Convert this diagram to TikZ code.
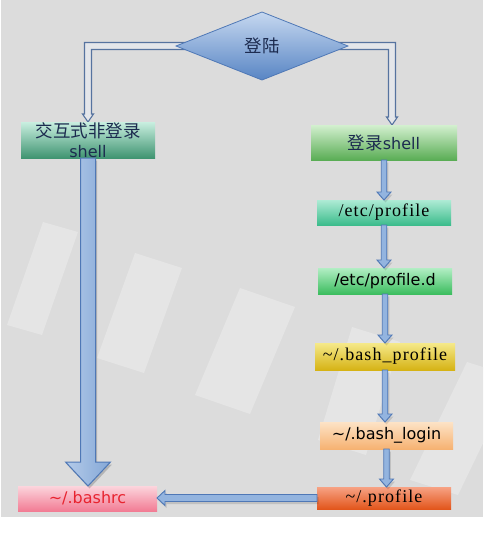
\documentclass[tikz,border=0pt]{standalone}
\usepackage{fontspec}
\newfontfamily\cjk{Noto Sans CJK SC}
\newfontfamily\sansf{DejaVu Sans}
\newfontfamily\serf[LetterSpace=6]{Liberation Serif}
\usetikzlibrary{shapes.geometric,calc}
\newcommand\cjkF{\cjk\fontsize{17.5}{21}\selectfont}
\newcommand\sanF{\sansf\fontsize{16}{21}\selectfont}
\newcommand\serF{\serf\fontsize{18}{21}\selectfont}
\definecolor{bg}{HTML}{DCDCDC}
\definecolor{bglite}{HTML}{E5E5E5}
\definecolor{navy}{HTML}{1C2B4F}
\definecolor{arrdraw}{HTML}{4F78B6}
\definecolor{arrfill}{HTML}{93B4DF}
\definecolor{hdraw}{HTML}{56739F}
\definecolor{hfill}{HTML}{E4E6EA}
\definecolor{redtxt}{HTML}{E8232F}
\pgfdeclarelayer{back}
\pgfsetlayers{back,main}
\newcommand\smallarr[2]{\path[sarrow] let \p1=(#1.south), \p2=(#2.north) in
  (\x1-2.75pt,\y1) -- (\x1+2.75pt,\y1) -- (\x1+2.75pt,\y2+8pt) -- (\x1+7pt,\y2+8pt)
  -- (\x1,\y2) -- (\x1-7pt,\y2+8pt) -- (\x1-2.75pt,\y2+8pt) -- cycle;}
\begin{document}
\begin{tikzpicture}[x=1pt,y=-1pt,
  cbox/.style={rectangle, inner sep=0pt, outer sep=0pt, text=black},
  shad/.style={preaction={fill=black, fill opacity=#1, transform canvas={shift={(1.5pt,-2.5pt)}}}},
  sarrow/.style={fill=arrfill, draw=arrdraw, line width=0.9pt, line join=miter, shad=0.12},
  bigarrow/.style={left color=arrfill!70!white, right color=arrfill!80!arrdraw, draw=arrdraw, line width=1pt, shad=0.18},
  harrow/.style={fill=hfill, draw=hdraw, line width=1.1pt, line join=miter}]
\useasboundingbox (0,0) rectangle (483,560);
\begin{pgfonlayer}{back}
\fill[white] (0,0) rectangle (483,560);
\fill[bg] (1,0) rectangle (483,517);
\begin{scope}
\clip (1,0) rectangle (483,517);
\fill[bglite] (43,222) -- (78,232) -- (42,335) -- (7,325) -- cycle;
\fill[bglite] (135,253) -- (182,268) -- (144,373) -- (97,358) -- cycle;
\fill[bglite] (240,288) -- (295,307) -- (250,414) -- (195,395) -- cycle;
\fill[bglite] (352,327) -- (400,342) -- (366,455) -- (318,440) -- cycle;
\fill[bglite] (467,362) -- (515,377) -- (458,495) -- (410,480) -- cycle;
\end{scope}
\end{pgfonlayer}

% nodes
\node[diamond, inner sep=0pt, outer sep=0pt, minimum width=172pt, minimum height=68pt,
  top color={rgb,255:red,198;green,216;blue,240}, bottom color={rgb,255:red,88;green,133;blue,196}, draw=arrdraw, line width=0.8pt,
  font=\cjkF, text=navy] (dia) at (262,46) {登陆};
\node[cbox, top color={rgb,255:red,201;green,239;blue,224}, bottom color={rgb,255:red,63;green,148;blue,113},
  minimum width=134pt, minimum height=36pt, font=\cjkF, text=navy, align=center] (lbox) at (88,140)
  {交互式非登录\\[-1pt]{\sanF shell}};
\node[cbox, top color={rgb,255:red,211;green,240;blue,207}, bottom color={rgb,255:red,90;green,173;blue,85},
  minimum width=146pt, minimum height=35pt, font=\cjkF, text=navy] (rbox) at (384,142.5)
  {登录{\sanF shell}};
\node[cbox, top color={rgb,255:red,174;green,235;blue,213}, bottom color={rgb,255:red,60;green,188;blue,140},
  minimum width=134pt, minimum height=25pt, font=\serF] (etc) at (384,212.5) {/etc/profile};
\node[cbox, top color={rgb,255:red,178;green,238;blue,196}, bottom color={rgb,255:red,60;green,189;blue,95},
  minimum width=134pt, minimum height=26pt, font=\sanF] (etcd) at (385,281) {/etc/profile.d};
\node[cbox, top color={rgb,255:red,245;green,233;blue,138}, bottom color={rgb,255:red,214;green,179;blue,21},
  minimum width=140pt, minimum height=27pt, font=\serF] (bprof) at (385,356.5) {\textasciitilde/.bash\_profile};
\node[cbox, top color={rgb,255:red,253;green,227;blue,198}, bottom color={rgb,255:red,246;green,178;blue,114},
  minimum width=133pt, minimum height=27pt, font=\sanF] (blogin) at (386.5,435.5) {\textasciitilde/.bash\_login};
\node[cbox, top color={rgb,255:red,247;green,162;blue,132}, bottom color={rgb,255:red,226;green,86;blue,28},
  minimum width=134pt, minimum height=22pt, font=\serF] (prof) at (384,498) {\textasciitilde/.profile};
\node[cbox, top color={rgb,255:red,252;green,213;blue,221}, bottom color={rgb,255:red,242;green,124;blue,148},
  minimum width=139pt, minimum height=25pt, font=\sanF, text=redtxt] (bashrc) at (87.5,498.5) {\textasciitilde/.bashrc};

% hollow arrows from the diamond
\begin{pgfonlayer}{back}
\path[harrow] let \p1=(dia.west), \p2=(lbox.north) in
  (\x1+12pt,\y1+3.5pt) -- (\x2-3.5pt,\y1+3.5pt) -- (\x2-3.5pt,\y2+8pt) -- (\x2-5.5pt,\y2+8pt)
  -- (\x2,\y2) -- (\x2+5.5pt,\y2+8pt) -- (\x2+3.5pt,\y2+8pt) -- (\x2+3.5pt,\y1-3.5pt) -- (\x1+12pt,\y1-3.5pt);
\path[harrow] let \p1=(dia.east), \p2=($(rbox.north)+(8,0)$) in
  (\x1-12pt,\y1+3.5pt) -- (\x2+3.5pt,\y1+3.5pt) -- (\x2+3.5pt,\y2+8pt) -- (\x2+5.5pt,\y2+8pt)
  -- (\x2,\y2) -- (\x2-5.5pt,\y2+8pt) -- (\x2-3.5pt,\y2+8pt) -- (\x2-3.5pt,\y1-3.5pt) -- (\x1-12pt,\y1-3.5pt);
\end{pgfonlayer}

% big arrow
\path[bigarrow] let \p1=(lbox.south), \p2=(bashrc.north) in
  (\x1-7.5pt,\y1) -- (\x1+7.5pt,\y1) -- (\x1+7.5pt,\y2+24pt) -- (\x1+22.5pt,\y2+24pt)
  -- (\x1,\y2) -- (\x1-22.5pt,\y2+24pt) -- (\x1-7.5pt,\y2+24pt) -- cycle;

% chain arrows
\smallarr{rbox}{etc}
\smallarr{etc}{etcd}
\smallarr{etcd}{bprof}
\smallarr{bprof}{blogin}
\smallarr{blogin}{prof}

% horizontal arrow
\path[sarrow] let \p1=(prof.west), \p2=(bashrc.east) in
  (\x1,\y1+3.5pt) -- (\x2+8pt,\y1+3.5pt) -- (\x2+8pt,\y1+7.5pt) -- (\x2,\y1)
  -- (\x2+8pt,\y1-7.5pt) -- (\x2+8pt,\y1-3.5pt) -- (\x1,\y1-3.5pt) -- cycle;
\end{tikzpicture}
\end{document}
